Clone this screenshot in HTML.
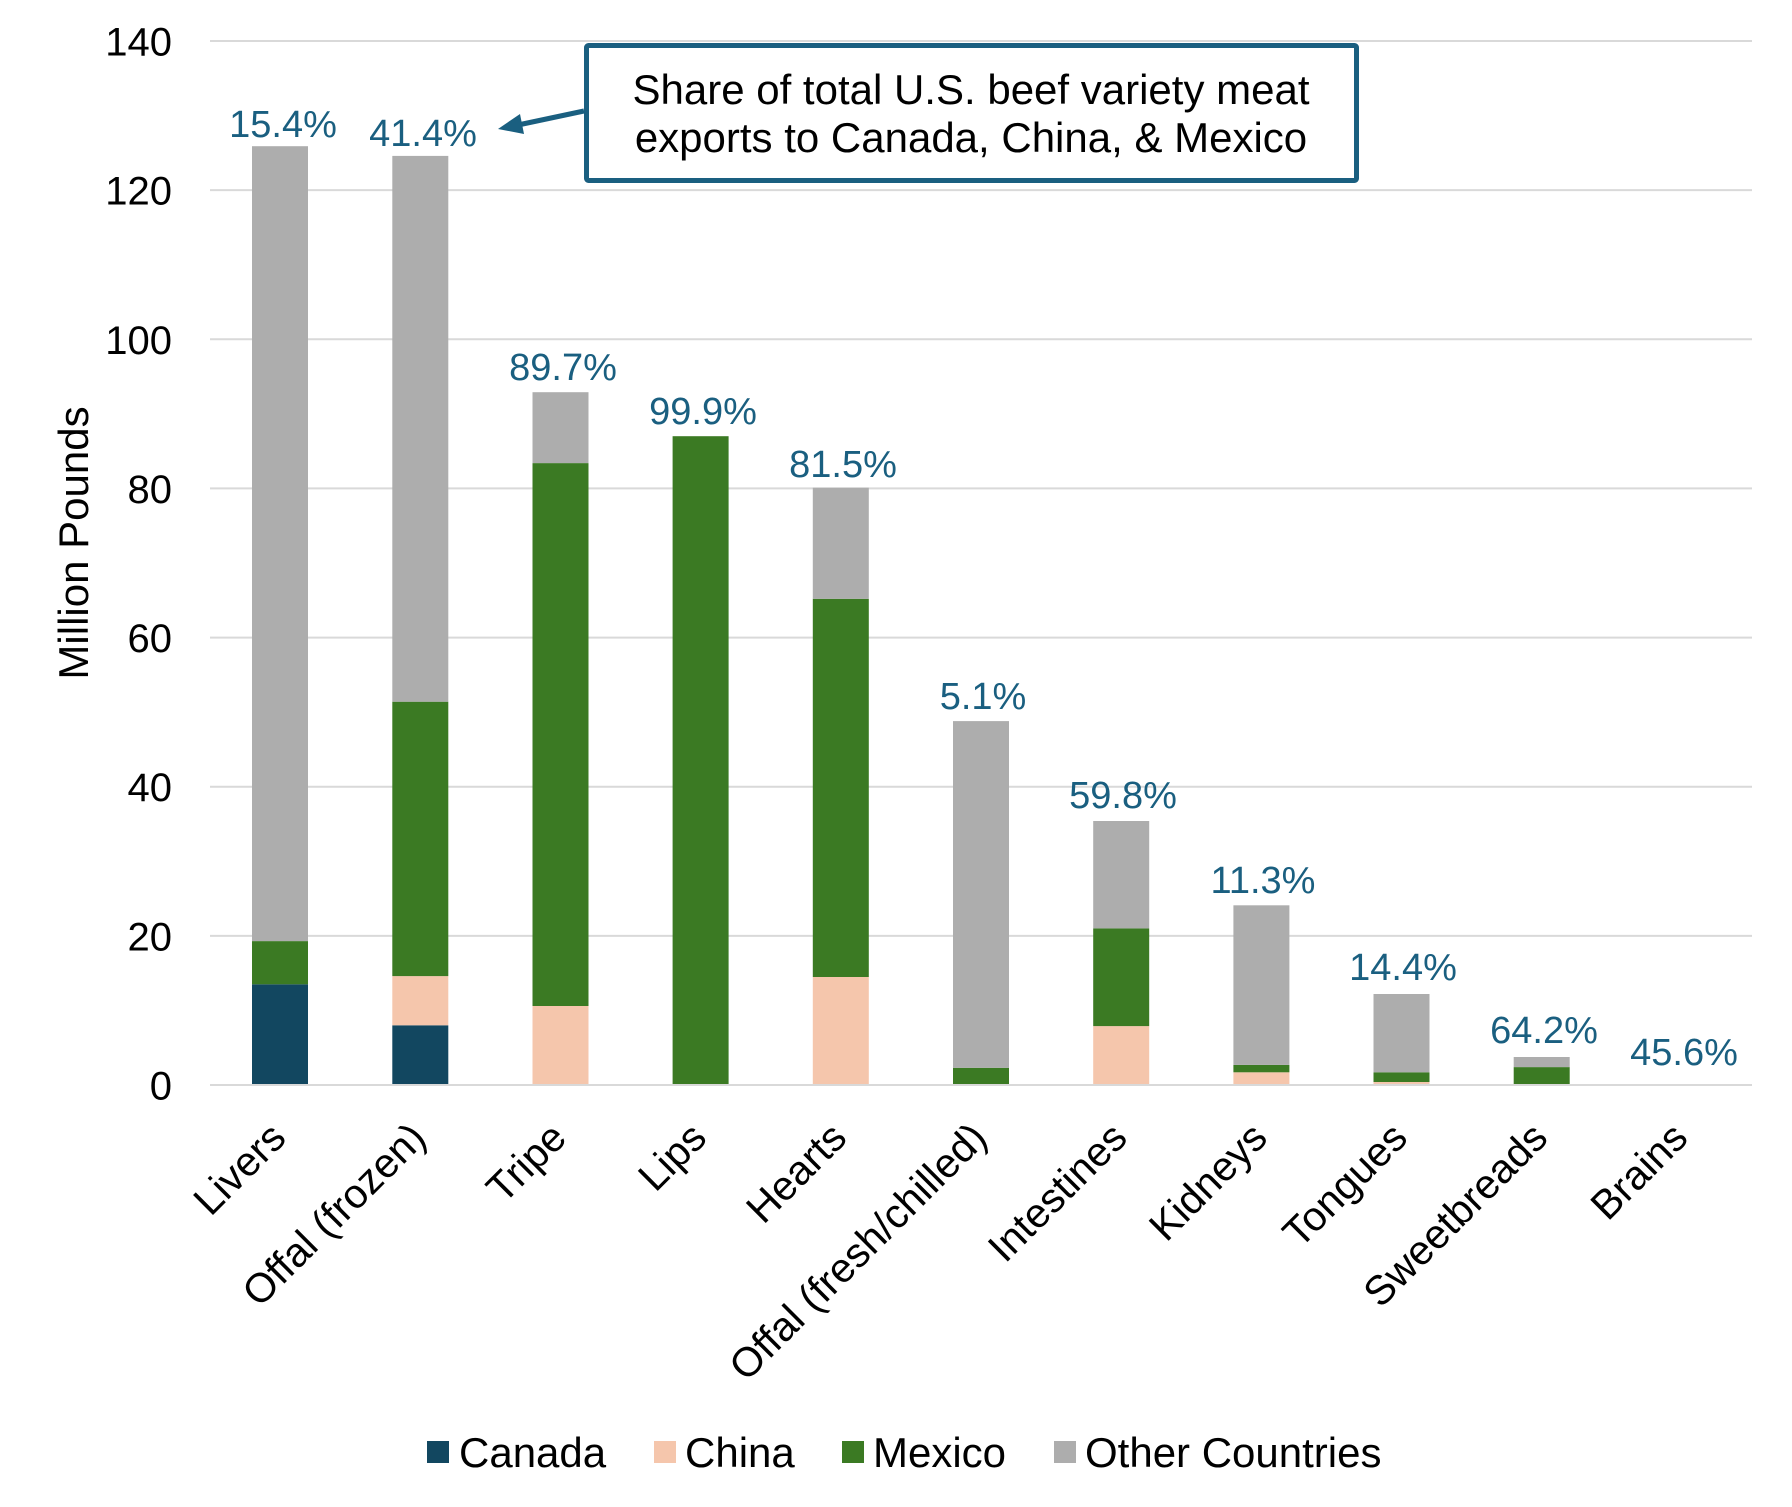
<!DOCTYPE html>
<html>
<head>
<meta charset="utf-8">
<style>
html,body{margin:0;padding:0;background:#fff;}
svg{display:block;}
text{font-family:"Liberation Sans",Arial,sans-serif;}
</style>
</head>
<body>
<svg width="1792" height="1507" viewBox="0 0 1792 1507" xmlns="http://www.w3.org/2000/svg">
<rect width="1792" height="1507" fill="#fff"/>
<!-- gridlines -->
<g stroke="#D9D9D9" stroke-width="2">
<line x1="210" y1="41" x2="1752" y2="41"/>
<line x1="210" y1="190.1" x2="1752" y2="190.1"/>
<line x1="210" y1="339.3" x2="1752" y2="339.3"/>
<line x1="210" y1="488.4" x2="1752" y2="488.4"/>
<line x1="210" y1="637.6" x2="1752" y2="637.6"/>
<line x1="210" y1="786.7" x2="1752" y2="786.7"/>
<line x1="210" y1="935.9" x2="1752" y2="935.9"/>
</g>
<!-- y tick labels -->
<g font-size="40" fill="#000" text-anchor="end">
<text x="172" y="55.5">140</text>
<text x="172" y="204.6">120</text>
<text x="172" y="353.8">100</text>
<text x="172" y="502.9">80</text>
<text x="172" y="652.1">60</text>
<text x="172" y="801.2">40</text>
<text x="172" y="950.4">20</text>
<text x="172" y="1099.5">0</text>
</g>
<text transform="translate(88,543) rotate(-90)" font-size="42" text-anchor="middle" fill="#000">Million Pounds</text>

<!-- bars -->
<rect x="252" y="984.3" width="56" height="100.7" fill="#124760"/>
<rect x="252" y="941.1" width="56" height="43.2" fill="#3B7A23"/>
<rect x="252" y="146.2" width="56" height="794.9" fill="#ADADAD"/>

<rect x="392.3" y="1025.3" width="56" height="59.7" fill="#124760"/>
<rect x="392.3" y="976.1" width="56" height="49.2" fill="#F5C6AC"/>
<rect x="392.3" y="701.7" width="56" height="274.4" fill="#3B7A23"/>
<rect x="392.3" y="155.9" width="56" height="545.8" fill="#ADADAD"/>

<rect x="532.5" y="1006" width="56" height="79" fill="#F5C6AC"/>
<rect x="532.5" y="463.1" width="56" height="542.9" fill="#3B7A23"/>
<rect x="532.5" y="392.2" width="56" height="70.9" fill="#ADADAD"/>

<rect x="672.6" y="436.2" width="56" height="648.8" fill="#3B7A23"/>

<rect x="812.8" y="977" width="56" height="108" fill="#F5C6AC"/>
<rect x="812.8" y="598.8" width="56" height="378.2" fill="#3B7A23"/>
<rect x="812.8" y="487.7" width="56" height="111.1" fill="#ADADAD"/>

<rect x="953" y="1067.8" width="56" height="17.2" fill="#3B7A23"/>
<rect x="953" y="721.1" width="56" height="346.7" fill="#ADADAD"/>

<rect x="1093.2" y="1026.1" width="56" height="58.9" fill="#F5C6AC"/>
<rect x="1093.2" y="928.4" width="56" height="97.7" fill="#3B7A23"/>
<rect x="1093.2" y="821" width="56" height="107.4" fill="#ADADAD"/>

<rect x="1233.4" y="1072.3" width="56" height="12.7" fill="#F5C6AC"/>
<rect x="1233.4" y="1064.9" width="56" height="7.4" fill="#3B7A23"/>
<rect x="1233.4" y="905.3" width="56" height="159.6" fill="#ADADAD"/>

<rect x="1373.5" y="1083.9" width="56" height="1.1" fill="#124760"/>
<rect x="1373.5" y="1082" width="56" height="1.9" fill="#F5C6AC"/>
<rect x="1373.5" y="1072.3" width="56" height="9.7" fill="#3B7A23"/>
<rect x="1373.5" y="994" width="56" height="78.3" fill="#ADADAD"/>

<rect x="1513.7" y="1067.1" width="56" height="17.9" fill="#3B7A23"/>
<rect x="1513.7" y="1057" width="56" height="10.1" fill="#ADADAD"/>

<rect x="1653.9" y="1084.5" width="56" height="0.5" fill="#ADADAD"/>

<!-- baseline -->
<line x1="210" y1="1085" x2="1752" y2="1085" stroke="#D9D9D9" stroke-width="2"/>

<!-- percent labels -->
<g font-size="38" fill="#1A5F80" text-anchor="middle">
<text x="283" y="137">15.4%</text>
<text x="423" y="146">41.4%</text>
<text x="563" y="380">89.7%</text>
<text x="703" y="424">99.9%</text>
<text x="843" y="477">81.5%</text>
<text x="983" y="709">5.1%</text>
<text x="1123" y="808">59.8%</text>
<text x="1263" y="893">11.3%</text>
<text x="1403" y="980">14.4%</text>
<text x="1544" y="1043">64.2%</text>
<text x="1684" y="1065">45.6%</text>
</g>

<!-- x labels -->
<g font-size="41" fill="#000" text-anchor="end">
<text transform="translate(288,1140) rotate(-45)">Livers</text>
<text transform="translate(428,1140) rotate(-45)">Offal (frozen)</text>
<text transform="translate(568.5,1140) rotate(-45)">Tripe</text>
<text transform="translate(708.6,1140) rotate(-45)">Lips</text>
<text transform="translate(848.8,1140) rotate(-45)">Hearts</text>
<text transform="translate(989,1140) rotate(-45)">Offal (fresh/chilled)</text>
<text transform="translate(1129.2,1140) rotate(-45)">Intestines</text>
<text transform="translate(1269.4,1140) rotate(-45)">Kidneys</text>
<text transform="translate(1409.5,1140) rotate(-45)">Tongues</text>
<text transform="translate(1549.7,1140) rotate(-45)">Sweetbreads</text>
<text transform="translate(1689.9,1140) rotate(-45)">Brains</text>
</g>

<!-- annotation -->
<rect x="586.5" y="45.5" width="770" height="135" fill="#fff" stroke="#1A5F80" stroke-width="5" rx="2"/>
<g font-size="42" fill="#000" text-anchor="middle">
<text x="971" y="104">Share of total U.S. beef variety meat</text>
<text x="971" y="152">exports to Canada, China, &amp; Mexico</text>
</g>
<line x1="584" y1="111" x2="518" y2="125" stroke="#1A5F80" stroke-width="5"/>
<polygon points="498,129 520,114 524,134" fill="#1A5F80"/>

<!-- legend -->
<rect x="427" y="1441" width="22" height="22" fill="#124760"/>
<text x="459" y="1467" font-size="42" fill="#000">Canada</text>
<rect x="654" y="1441" width="22" height="22" fill="#F5C6AC"/>
<text x="685" y="1467" font-size="42" fill="#000">China</text>
<rect x="842" y="1441" width="22" height="22" fill="#3B7A23"/>
<text x="873" y="1467" font-size="42" fill="#000">Mexico</text>
<rect x="1054" y="1441" width="22" height="22" fill="#ADADAD"/>
<text x="1085" y="1467" font-size="42" fill="#000">Other Countries</text>
</svg>
</body>
</html>
